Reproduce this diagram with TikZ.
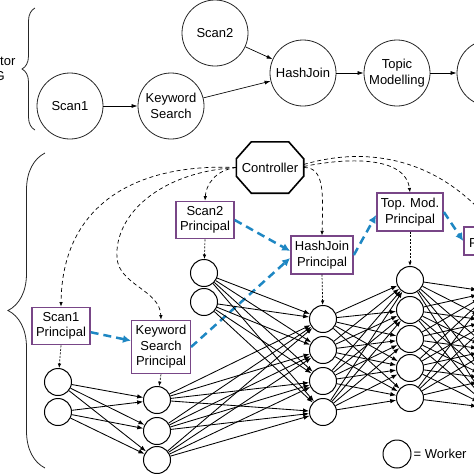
\documentclass[tikz,border=0pt]{standalone}
\usepackage{fontspec}
\setmainfont{Liberation Sans}
\usetikzlibrary{arrows.meta,decorations.pathreplacing}

\definecolor{viola}{RGB}{120,70,135}
\definecolor{azzurro}{RGB}{30,135,195}

\begin{document}
\begin{tikzpicture}[
    x=1pt, y=-1pt,
    font=\fontsize{13}{15.5}\selectfont,
    operatore/.style={circle, draw=black!85, line width=0.8pt, minimum size=66pt, inner sep=0pt, align=center},
    lavoratore/.style={circle, draw=black, line width=1pt, minimum size=27pt, inner sep=0pt},
    principale/.style={draw=viola, line width=1.5pt, fill=white, align=center, inner xsep=4pt, inner ysep=5pt},
    freccia/.style={-{Latex[length=6pt,width=4pt]}, line width=0.7pt},
    arco/.style={-{Latex[length=6pt,width=4.5pt]}, line width=0.85pt},
    comando/.style={-{Latex[length=4.5pt,width=3.5pt]}, line width=0.7pt, dash pattern=on 4pt off 3pt},
    puntini/.style={-{Latex[length=4.5pt,width=3.5pt]}, line width=0.7pt, dash pattern=on 2pt off 1.5pt},
    flusso/.style={-{Latex[length=8pt,width=8pt]}, draw=azzurro, line width=2.5pt, dash pattern=on 8pt off 5pt},
    graffa/.style={decorate, line width=0.8pt, draw=black!85}
]
    \useasboundingbox (0,0) rectangle (474,474);

    % 1. Grafo degli operatori (in alto)
    \node[anchor=west, inner sep=0pt] (T1) at (0,61) {tor};
    \node[anchor=east, inner sep=0pt] (T2) at (5,76) {G};
    \draw[graffa, decoration={brace, amplitude=13pt}] (35,130) -- (35,8);

    \node[operatore] (S1) at (70,106)  {Scan1};
    \node[operatore] (KS) at (171,106) {Keyword\\Search};
    \node[operatore] (S2) at (215,33)  {Scan2};
    \node[operatore] (HJ) at (303,73)  {HashJoin};
    \node[operatore] (TM) at (397,73)  {Topic\\Modelling};
    \node[operatore] (X1) at (490,73)  {};

    \draw[freccia] (S1) -- (KS);
    \draw[freccia] (KS) -- (HJ);
    \draw[freccia] (S2) -- (HJ);
    \draw[freccia] (HJ) -- (TM);
    \draw[freccia] (TM) -- (X1);

    % 2. Controller e principal
    \draw[graffa, decoration={brace, amplitude=37pt}] (45,468) -- (45,153);

    \node[minimum width=67pt, minimum height=51pt, inner sep=0pt] (CT) at (270,167.5) {Controller};
    \draw[line width=1.6pt]
        ([xshift=15pt]CT.north west) -- ([xshift=-15pt]CT.north east)
        -- ([yshift=-17pt]CT.north east) -- ([yshift=17pt]CT.south east)
        -- ([xshift=-15pt]CT.south east) -- ([xshift=15pt]CT.south west)
        -- ([yshift=17pt]CT.south west) -- ([yshift=-17pt]CT.north west) -- cycle;

    \node[principale] (P1) at (61,326)  {Scan1\\Principal};
    \node[principale] (P2) at (161,347) {Keyword\\Search\\Principal};
    \node[principale] (P3) at (205,220) {Scan2\\Principal};
    \node[principale] (P4) at (322,255) {HashJoin\\Principal};
    \node[principale] (P5) at (410,212) {Top. Mod.\\Principal};
    \node[principale, minimum width=60pt] (P6) at (494,241) {\mbox{}\\Principal};

    % comandi dal controller (tratteggiati)
    \draw[comando] (CT.west) .. controls (135,163) and (62,205) .. (P1.north);
    \draw[comando] (CT.west) .. controls (160,172) and (114,215) .. (117,258)
                             .. controls (119,285) and (160,290) .. (P2.north);
    \draw[comando] (CT.west) .. controls (215,170) and (206,185) .. (P3.north);
    \draw[comando] (CT.east) .. controls (325,167) and (323,195) .. (P4.north);
    \draw[comando] ([yshift=1pt]CT.east) .. controls (345,158) and (405,155) .. (P5.north);
    \draw[comando] ([yshift=3pt]CT.east) .. controls (370,145) and (440,160) .. (P6.north);

    % flusso tra i principal (blu)
    \draw[flusso] (P1) -- (P2);
    \draw[flusso] (P3.east) -- ([yshift=4pt]P4.west);
    \draw[flusso] (P2.east) -- ([yshift=-3pt]P4.west);
    \draw[flusso] (P4.east) -- ([yshift=-3pt]P5.west);
    \draw[flusso] (P5.east) -- (P6.west);

    % 3. Worker
    \node[lavoratore] (A1) at (58,382) {};
    \node[lavoratore] (A2) at (58,412) {};

    \node[lavoratore] (B1) at (157,400) {};
    \node[lavoratore] (B2) at (157,431) {};
    \node[lavoratore] (B3) at (157,460) {};

    \node[lavoratore] (C1) at (204,273) {};
    \node[lavoratore] (C2) at (204,302) {};

    \node[lavoratore] (D1) at (323,319) {};
    \node[lavoratore] (D2) at (323,350) {};
    \node[lavoratore] (D3) at (323,381) {};
    \node[lavoratore] (D4) at (323,412) {};

    \node[lavoratore] (E1) at (410,280) {};
    \node[lavoratore] (E2) at (410,310) {};
    \node[lavoratore] (E3) at (410,339) {};
    \node[lavoratore] (E4) at (410,368) {};
    \node[lavoratore] (E5) at (410,398) {};

    \node[lavoratore] (F1) at (491,292) {};
    \node[lavoratore] (F2) at (491,321) {};
    \node[lavoratore] (F3) at (491,350) {};
    \node[lavoratore] (F4) at (491,379) {};
    \node[lavoratore] (F5) at (491,408) {};

    % principal -> primo worker
    \draw[puntini] (P1.south) -- (A1);
    \draw[puntini] (P2.south) -- (B1);
    \draw[puntini] (P3.south) -- (C1);
    \draw[puntini] (P4.south) -- (D1);
    \draw[puntini] (P5.south) -- (E1);

    % archi tra i worker
    \foreach \a in {A1,A2} \foreach \b in {B1,B2,B3} \draw[arco] (\a) -- (\b);
    \foreach \a in {B1,B2,B3,C1,C2} \foreach \b in {D1,D2,D3,D4} \draw[arco] (\a) -- (\b);
    \foreach \a in {D1,D2,D3,D4} \foreach \b in {E1,E2,E3,E4,E5} \draw[arco] (\a) -- (\b);
    \foreach \a in {E1,E2,E3,E4,E5} \foreach \b in {F1,F2,F3,F4,F5} \draw[arco] (\a) -- (\b);

    % 4. Legenda
    \node[lavoratore, minimum size=28pt] (LG) at (397,454) {};
    \node[anchor=west, inner sep=2pt] (LT) at (LG.east) {= Worker};

\end{tikzpicture}
\end{document}
